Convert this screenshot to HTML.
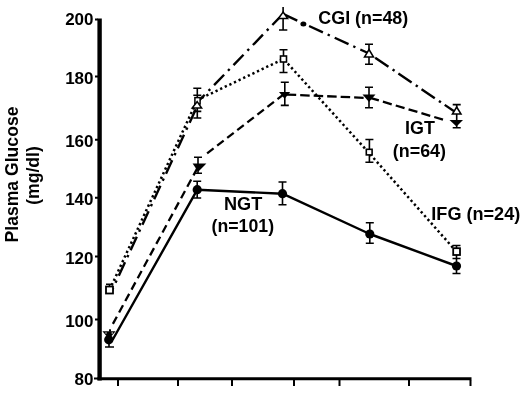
<!DOCTYPE html>
<html><head><meta charset="utf-8">
<style>
html,body{margin:0;padding:0;background:#fff;}
svg{display:block;}
text{font-family:"Liberation Sans",Arial,Helvetica,sans-serif;font-weight:bold;fill:#000;}
</style></head><body>
<svg width="520" height="393" viewBox="0 0 520 393">
<rect width="520" height="393" fill="#fff"/>
<!-- axes -->
<g stroke="#000" fill="none">
<path d="M99.6 18.5V380.5" stroke-width="4.4"/>
<path d="M97.5 378.8H471.5" stroke-width="3.1"/>
<g stroke-width="2">
<path d="M95 19.5H98M95 76.5H98M95 139.7H98M95 197.8H98M95 256.5H98M95 319.5H98M94 378.5H98"/>
<path d="M118 380V386M178 380V386M232 380V386M294 380V386M339.5 380V386M409 380V386M470.5 380V386"/>
</g>
</g>
<!-- tick labels -->
<g font-size="17" text-anchor="end">
<text x="93.5" y="24.7">200</text>
<text x="93.5" y="84">180</text>
<text x="93.5" y="146.7">160</text>
<text x="93.5" y="205.4">140</text>
<text x="93.5" y="263.6">120</text>
<text x="93.5" y="327">100</text>
<text x="93.5" y="385">80</text>
</g>
<!-- y label -->
<text font-size="17.6" text-anchor="middle" transform="translate(18.2 174.5) rotate(-90)">Plasma Glucose</text>
<text font-size="17.6" text-anchor="middle" transform="translate(38.8 175.5) rotate(-90)">(mg/dl)</text>
<!-- lines -->
<g stroke="#000" fill="none" stroke-width="2.2">
<path d="M112.5 340L197.3 189.7L282.5 193.7L369.8 234L456.5 266" stroke-width="2.4" stroke-linejoin="round"/>
<polyline points="109.5,290 197.3,100 283.5,59 368.2,152 456.5,251.7" stroke-dasharray="2.3 2.8" stroke-width="2.5"/>
<g stroke-width="2.3">
<path d="M112.9 323.9L198 167" stroke-dasharray="8.2 4.8"/>
<path d="M198 160.4L285 93.3" stroke-dasharray="0 11.5 8.2 4.5 8.2 4.5 8.2 4.5 8.2 4.5 8.2 4.5 8.2 4.5 8.2 4.5 8.2 4.5"/>
<path d="M285 94.5L369 98" stroke-dasharray="9.5 4" stroke-dashoffset="-1.7"/>
<path d="M369 97.5L443 119.6" stroke-dasharray="9.2 4.2" stroke-dashoffset="-1.1"/>
</g>
<g stroke-width="2.4">
<path d="M111.7 291L197.3 106" stroke-dasharray="14.8 5.5 2.4 5.4" stroke-dashoffset="11.2"/>
<path d="M197.3 102.4L283 14" stroke-dasharray="14.4 5.6 2.4 5.5" stroke-dashoffset="3.8"/>
<path d="M283 14L369 53.5" stroke-dasharray="15.2 5.2 2.4 5.4" stroke-dashoffset="-0.5"/>
<path d="M369 53.5L456.7 113" stroke-dasharray="16 5 2.4 4.6" stroke-dashoffset="-7.5"/>
</g>
<ellipse cx="303.4" cy="24.1" rx="3" ry="2.5" fill="#000" stroke="none"/>
</g>
<!-- error bars -->
<g stroke="#000" stroke-width="1.6" fill="none">
<!-- NGT -->
<path d="M109 333V347M105 347H114"/>
<path d="M197.2 181.3V198M193.2 181.3H201.2M193.2 198H201.2"/>
<path d="M282.5 182V204.7M278.5 182H286.5M278.5 204.7H286.5"/>
<path d="M369.8 222.7V243.3M365.8 222.7H373.8M365.8 243.3H373.8"/>
<path d="M456.5 259V273.5M452.5 273.5H460.5"/>
<!-- IFG -->
<path d="M197.3 88.3V118M193.3 88.3H201.3M193.3 118H201.3M193.3 95.2H201.3M193.3 111.4H201.3"/>
<path d="M109.5 284V286M106 284.3H113"/>
<path d="M283.5 49.8V72.5M279.5 49.8H287.5M279.5 72.5H287.5"/>
<path d="M369.4 139.5V162.3M365.4 139.5H373.4M365.4 162.3H373.4"/>
<path d="M456.5 245.5V258.5M452.5 245.5H460.5M452.5 258.5H460.5"/>
<!-- IGT -->
<path d="M198 157.2V173.2M194 157.2H202M194 173.2H202"/>
<path d="M284.8 82.2V105.4M280.8 82.2H288.8M280.8 105.4H288.8"/>
<path d="M369 87.2V107.8M365 87.2H373M365 107.8H373"/>
<path d="M456.7 104.6V127.7M452.7 104.6H460.7M452.7 127.7H460.7"/>
<!-- CGI -->
<path d="M283.1 7V30M279 30H287.3"/>
<path d="M369 44.2V64.3M365 44.2H373M365 64.3H373"/>
</g>
<!-- markers -->
<g stroke="#000" stroke-width="1.5">
<!-- NGT circles -->
<g fill="#000" stroke="none">
<circle cx="108.8" cy="339.8" r="4.7"/>
<circle cx="197.2" cy="189.7" r="4.6"/>
<circle cx="282.5" cy="193.7" r="4.6"/>
<circle cx="369.8" cy="234" r="4.6"/>
<circle cx="456.5" cy="266" r="4.6"/>
</g>
<!-- IGT inverted triangles -->
<g fill="#000" stroke="none">
<path d="M102.4 331.3H115.6L109 339Z"/><rect x="109" y="329.3" width="2" height="2.4"/><circle cx="106" cy="333" r="0.7" fill="#fff"/><circle cx="112.2" cy="333" r="0.7" fill="#fff"/>
<path d="M192.6 163.6H206.4L198.2 171.8Z"/>
<path d="M279 92H290.2L284.6 98.8Z"/>
<path d="M362.5 94.5H375.5L369 102Z"/>
<path d="M449.5 120H463L456.5 126.5Z"/>
</g>
<!-- IFG squares -->
<g fill="#fff" stroke-width="1.8">
<rect x="106" y="286.5" width="7" height="7"/>
<rect x="194.9" y="97.6" width="5.2" height="6.4" stroke-width="1.5"/>
<rect x="280.5" y="56" width="6" height="6" stroke-width="1.6"/>
<rect x="366.3" y="149.3" width="5.8" height="5.6" stroke-width="1.6"/>
<rect x="453.2" y="248.2" width="6.8" height="6.8"/>
</g>
<!-- CGI triangles -->
<g fill="#fff">
<path d="M197.2 101.6L201.6 108H192.2Z"/>
<path d="M283.1 12L287.6 18.4H278.6Z"/>
<path d="M369 49.5L373.5 57H364.5Z"/>
<path d="M456.7 107L461 114H452.4Z"/>
</g>
</g>
<!-- labels -->
<g font-size="17.9">
<text x="318.3" y="24.3">CGI (n=48)</text>
<text x="405" y="134.3">IGT</text>
<text x="392.8" y="157">(n=64)</text>
<text x="431.3" y="219.5" font-size="18.1">IFG (n=24)</text>
<text x="224" y="210" textLength="38.3" lengthAdjust="spacingAndGlyphs">NGT</text>
<text x="211.6" y="232.3" font-size="17.7">(n=101)</text>
</g>
</svg>
</body></html>
